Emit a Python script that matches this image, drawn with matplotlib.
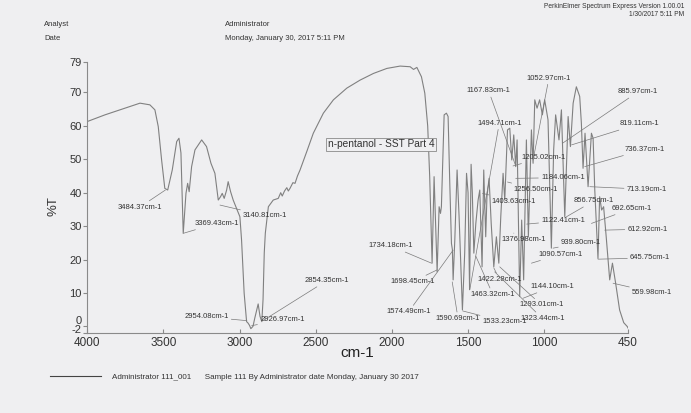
import numpy as np
import matplotlib.pyplot as plt

plt.rcParams['font.family'] = ['Liberation Sans', 'DejaVu Sans']
plt.rcParams['axes.unicode_minus'] = False

# =============================================================================
# Spectrum
# =============================================================================

wavenumber = [4000, 3884, 3752, 3654, 3589, 3556, 3534, 3512, 3491, 3472,
              3442, 3413, 3398, 3385, 3370, 3352, 3341, 3331, 3315, 3293,
              3249, 3217, 3188, 3162, 3140, 3125, 3114, 3101, 3085, 3075,
              3059, 3042, 2998, 2987, 2970, 2954, 2945, 2935, 2926, 2912,
              2900, 2878, 2866, 2854, 2846, 2838, 2831, 2811, 2779, 2746,
              2730, 2720, 2705, 2690, 2680, 2669, 2650, 2636, 2620, 2603,
              2559, 2516, 2450, 2384, 2296, 2209, 2121, 2033, 1946, 1880,
              1858, 1836, 1806, 1784, 1765, 1752, 1736, 1723, 1703, 1690,
              1681, 1675, 1657, 1642, 1631, 1620, 1609, 1603, 1598, 1587,
              1572, 1559, 1537, 1522, 1510, 1500, 1490, 1480, 1472, 1462,
              1449, 1434, 1423, 1408, 1397, 1384, 1376, 1362, 1348, 1331,
              1314, 1298, 1285, 1270, 1259, 1241, 1226, 1213, 1200, 1187,
              1178, 1161, 1148, 1135, 1117, 1104, 1084, 1073, 1062, 1047,
              1030, 1012, 997, 975, 953, 938, 925, 903, 887, 865,
              843, 828, 810, 789, 767, 756, 745, 732, 712, 690,
              679, 668, 658, 647, 636, 623, 610, 593, 570, 552,
              531, 505, 478, 454, 450]
transmittance = [61.3, 63.3, 65.3, 66.8, 66.3, 64.8, 59.8, 49.8, 41.3, 40.8,
                 46.8, 55.3, 56.3, 51.9, 27.8, 39.8, 42.8, 40.3, 47.8, 52.8,
                 55.8, 53.8, 48.8, 45.8, 37.8, 38.8, 39.8, 38.3, 40.8, 43.3,
                 40.3, 37.8, 32.8, 25.8, 9.9, 1.4, 1.0, 0.3, -0.7, 0.0,
                 2.5, 6.7, 3.0, 1.4, 8.0, 22.0, 27.9, 35.8, 37.8, 38.3,
                 40.0, 39.0, 40.5, 41.5, 40.5, 41.3, 43.0, 42.8, 45.0, 46.8,
                 52.3, 57.8, 63.8, 67.8, 71.3, 73.7, 75.7, 77.2, 77.9, 77.7,
                 76.9, 77.5, 74.7, 69.8, 60.0, 45.0, 18.9, 44.8, 16.3, 35.8,
                 33.8, 35.8, 63.3, 63.8, 62.8, 42.8, 24.8, 23.0, 13.9, 25.8,
                 46.8, 33.0, 4.9, 22.0, 45.8, 40.0, 11.0, 48.5, 40.0, 21.9,
                 30.8, 37.8, 40.8, 17.8, 46.8, 26.8, 38.8, 44.3, 30.8, 17.8,
                 26.8, 18.9, 33.0, 45.8, 37.8, 58.8, 59.3, 49.8, 57.3, 47.8,
                 55.8, 8.9, 31.8, 13.9, 55.8, 26.8, 58.8, 48.8, 67.8, 65.3,
                 67.8, 63.3, 67.8, 61.8, 23.4, 52.8, 63.3, 55.8, 64.8, 32.8,
                 62.8, 53.8, 66.8, 71.7, 68.8, 60.8, 47.3, 57.8, 41.8, 57.8,
                 56.3, 40.8, 30.8, 20.3, 38.8, 34.8, 35.8, 26.8, 13.9, 18.9,
                 12.9, 4.9, 1.1, -0.1, -0.5]

# peak labels: text, point on the curve (wn, %T)
peak_text = ['3484.37cm-1', '3369.43cm-1', '3140.81cm-1', '2954.08cm-1',
             '2926.97cm-1', '2854.35cm-1', '1734.18cm-1', '1698.45cm-1',
             '1574.49cm-1', '1590.69cm-1', '1533.23cm-1', '1494.71cm-1',
             '1463.32cm-1', '1422.28cm-1', '1403.63cm-1', '1376.98cm-1',
             '1256.50cm-1', '1205.02cm-1', '1184.06cm-1', '1167.83cm-1',
             '1052.97cm-1', '885.97cm-1', '819.11cm-1', '736.37cm-1',
             '713.19cm-1', '856.75cm-1', '692.65cm-1', '1122.41cm-1',
             '612.92cm-1', '939.80cm-1', '1090.57cm-1', '645.75cm-1',
             '559.98cm-1', '1144.10cm-1', '1293.01cm-1', '1323.44cm-1']
peak_wn = [3487, 3365, 3129, 2952, 2921, 2840, 1740, 1703, 1598, 1604,
           1535, 1489, 1449, 1331, 1405, 1200, 1241, 1205, 1187, 1187,
           1073, 880, 821, 734, 701, 854, 690, 1115, 603, 942,
           1084, 647, 548, 1139, 1292, 1325]
peak_T = [40.8, 27.9, 36.3, 1.7, 0.2, 1.9, 18.9, 16.9, 22.8, 13.3,
          4.6, 10.9, 21.0, 17.5, 39.8, 27.9, 43.2, 48.0, 44.3, 48.0,
          49.8, 54.8, 54.3, 47.8, 41.8, 32.8, 30.8, 30.6, 28.8, 23.4,
          18.9, 20.1, 12.9, 8.4, 17.8, 16.3]

# where each label text sits
label_wn = [3654, 3152, 2831, 3218, 2719, 2427, 2010, 1861, 1889, 1566,
            1261, 1295, 1338, 1294, 1200, 1136, 1057, 1004, 877, 1365,
            969, 384, 378, 337, 326, 672, 424, 875, 321, 758,
            890, 304, 291, 944, 1018, 1013]
label_T = [35.7, 30.8, 33.1, 2.8, 1.9, 13.7, 24.1, 13.4, 4.4, 2.4,
           1.4, 60.8, 9.6, 14.1, 37.5, 26.0, 41.0, 50.6, 44.5, 70.5,
           74.3, 70.2, 60.6, 53.0, 41.0, 37.6, 35.3, 31.6, 29.1, 25.0,
           21.6, 20.5, 10.2, 11.9, 6.4, 2.4]

xticks = [4000, 3500, 3000, 2500, 2000, 1500, 1000, 450]
yticks = [-2, 0, 10, 20, 30, 40, 50, 60, 70, 79]

# =============================================================================
# Plot
# =============================================================================

bg = '#efeff1'
fig = plt.figure(figsize=(6.91, 4.13), dpi=100, facecolor=bg)
ax = fig.add_axes([0.1263, 0.1937, 0.7825, 0.6552], facecolor=bg)

ax.plot(wavenumber, transmittance, color='#808080', lw=0.8)

for txt, x, y, tx, ty in zip(peak_text, peak_wn, peak_T, label_wn, label_T):
    ax.annotate(txt, xy=(x, y), xytext=(tx, ty), ha='center', va='center',
                fontsize=5.5, color='#333333', annotation_clip=False,
                arrowprops=dict(arrowstyle='-', color='#7a7a7a', lw=0.5,
                                shrinkA=0, shrinkB=0))

ax.text(2071, 54.5, 'n-pentanol - SST Part 4', ha='center', va='center',
        fontsize=7.3, color='#333333',
        bbox=dict(boxstyle='square,pad=0.15', fc=bg, ec='#8a8a8a', lw=0.6))

ax.set_xlim(4000, 450)
ax.set_ylim(-2, 79)
ax.set_xticks(xticks)
ax.set_yticks(yticks)
ax.tick_params(axis='x', direction='in', length=3, labelsize=8.5,
               colors='#8a8a8a', labelcolor='#333333', pad=3)
ax.tick_params(axis='y', direction='out', length=3, labelsize=8,
               colors='#8a8a8a', labelcolor='#333333', pad=1)
# keep "0" and "-2" apart like the printout does
ax.yaxis.get_major_ticks()[0].label1.set_va('baseline')
ax.yaxis.get_major_ticks()[1].label1.set_va('bottom')
for side in ['top', 'right']:
    ax.spines[side].set_visible(False)
for side in ['left', 'bottom']:
    ax.spines[side].set_color('#8a8a8a')
    ax.spines[side].set_linewidth(0.8)

ax.set_ylabel('%T', fontsize=9.5, color='#333333')
ax.yaxis.set_label_coords(-0.051, 0.47)
ax.set_xlabel('cm-1', fontsize=11, color='#222222')
ax.xaxis.set_label_coords(0.499, -0.074)
ax.xaxis.label.set_va('center')

# header
fig.text(0.064, 0.9395, 'Analyst', fontsize=5.5, va='center', color='#333333')
fig.text(0.064, 0.9068, 'Date', fontsize=5.5, va='center', color='#333333')
fig.text(0.3263, 0.9395, 'Administrator', fontsize=5.5, va='center', color='#333333')
fig.text(0.3263, 0.9068, 'Monday, January 30, 2017 5:11 PM', fontsize=5.5,
         va='center', color='#333333')
fig.text(0.9899, 0.9838, 'PerkinElmer Spectrum Express Version 1.00.01',
         fontsize=4.8, ha='right', va='center', color='#333333')
fig.text(0.9899, 0.9637, '1/30/2017 5:11 PM', fontsize=4.8, ha='right',
         va='center', color='#333333')

# legend
handle, = ax.plot([], [], color='#444444', lw=0.8)
fig.legend([handle], ['Administrator 111_001      Sample 111 By Administrator date Monday, January 30 2017'],
           loc='center left', bbox_to_anchor=(0.0724, 0.0872), frameon=False,
           fontsize=5.8, handlelength=6.3, handletextpad=1.4, borderpad=0,
           borderaxespad=0, labelcolor='#333333')

fig.savefig('out.png', dpi=100, facecolor=bg)
